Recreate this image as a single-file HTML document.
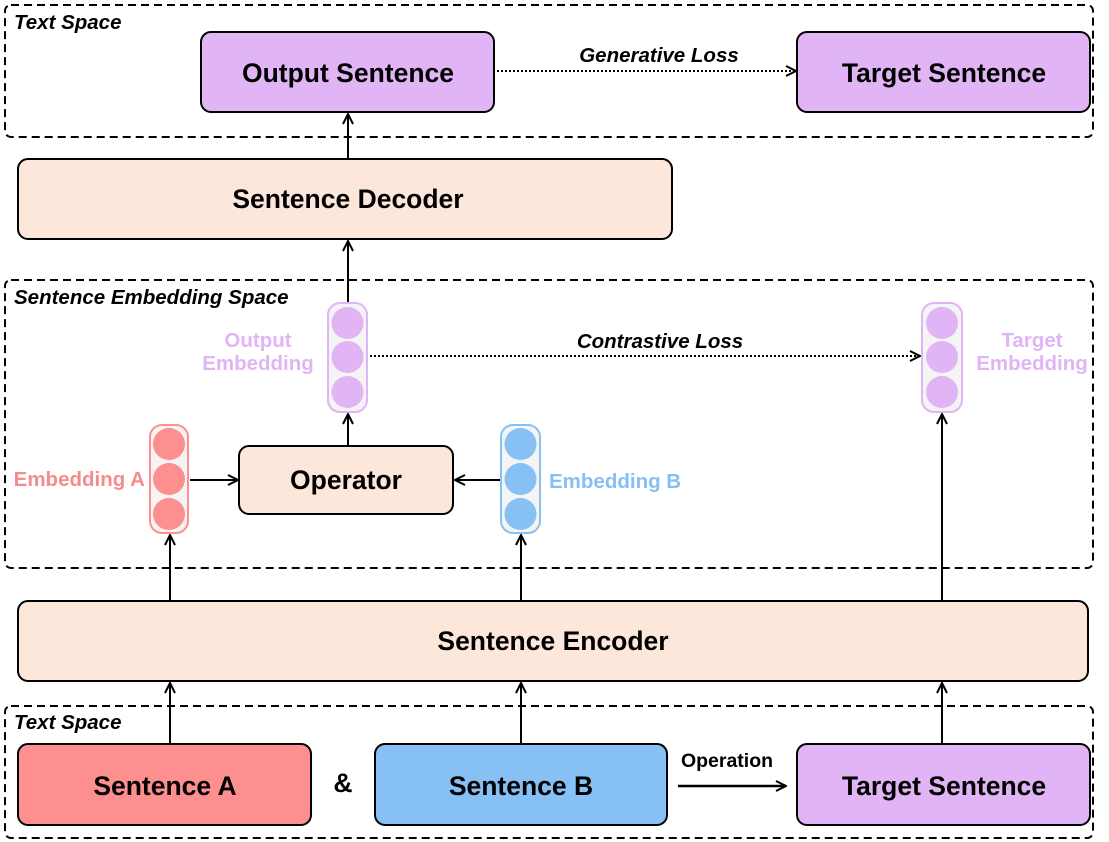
<!DOCTYPE html>
<html><head><style>body{margin:0;background:#fff}svg{display:block}text{font-family:"Liberation Sans",sans-serif;font-weight:bold}</style></head>
<body>
<svg width="1109" height="842" viewBox="0 0 1109 842" xmlns="http://www.w3.org/2000/svg">
<defs>
<marker id="a" viewBox="0 0 12 12" refX="11" refY="6" markerWidth="12" markerHeight="12" markerUnits="userSpaceOnUse" orient="auto"><path d="M1,1 L11,6 L1,11" fill="none" stroke="#000" stroke-width="2"/></marker>
</defs>
<g fill="none" stroke="#000" stroke-width="2" stroke-dasharray="8,5">
<rect x="5" y="5" width="1088" height="132" rx="6"/>
<rect x="5" y="280" width="1088" height="288" rx="6"/>
<rect x="5" y="706" width="1088" height="132" rx="6"/>
</g>
<g font-style="italic" font-size="20.5" fill="#000">
<text x="14" y="29">Text Space</text>
<text x="14" y="304">Sentence Embedding Space</text>
<text x="14" y="729">Text Space</text>
</g>
<g stroke="#000" stroke-width="2">
<rect x="201" y="32" width="293" height="80" rx="10" fill="#e0b4f5"/>
<rect x="797" y="32" width="293" height="80" rx="10" fill="#e0b4f5"/>
<rect x="18" y="159" width="654" height="80" rx="10" fill="#fde6da"/>
<rect x="239" y="446" width="214" height="68" rx="10" fill="#fde6da"/>
<rect x="18" y="601" width="1070" height="80" rx="10" fill="#fde6da"/>
<rect x="18" y="744" width="293" height="81" rx="10" fill="#fd8f8f"/>
<rect x="375" y="744" width="292" height="81" rx="10" fill="#86c0f5"/>
<rect x="797" y="744" width="293" height="81" rx="10" fill="#e0b4f5"/>
</g>
<g font-size="26.5" fill="#000" text-anchor="middle">
<text x="348" y="82">Output Sentence</text>
<text x="944" y="82">Target Sentence</text>
<text x="348" y="208">Sentence Decoder</text>
<text x="346" y="489">Operator</text>
<text x="553" y="650">Sentence Encoder</text>
<text x="165" y="795">Sentence A</text>
<text x="521" y="795">Sentence B</text>
<text x="944" y="795">Target Sentence</text>
<text x="343" y="792">&amp;</text>
</g>
<g stroke-width="2">
<rect x="328" y="303" width="39" height="109" rx="12" fill="#f4f4f4" stroke="#e0b4f5"/>
<rect x="922" y="303" width="40" height="109" rx="12" fill="#f4f4f4" stroke="#e0b4f5"/>
<rect x="150" y="425" width="38" height="108" rx="12" fill="#f4f4f4" stroke="#fd8f8f"/>
<rect x="501" y="425" width="39" height="108" rx="12" fill="#f4f4f4" stroke="#86c0f5"/>
</g>
<g fill="#e0b4f5"><circle cx="347.5" cy="323" r="16"/><circle cx="347.5" cy="357" r="16"/><circle cx="347.5" cy="392" r="16"/>
<circle cx="942" cy="323" r="16"/><circle cx="942" cy="357" r="16"/><circle cx="942" cy="392" r="16"/></g>
<g fill="#fd8f8f"><circle cx="169" cy="444" r="16"/><circle cx="169" cy="479" r="16"/><circle cx="169" cy="514" r="16"/></g>
<g fill="#86c0f5"><circle cx="520.5" cy="444" r="16"/><circle cx="520.5" cy="479" r="16"/><circle cx="520.5" cy="514" r="16"/></g>
<g font-size="20.5">
<text x="145" y="486" text-anchor="end" fill="#f58c8c">Embedding A</text>
<text x="549" y="488" fill="#86bff5">Embedding B</text>
<text x="258" y="347" text-anchor="middle" fill="#e0b4f5">Output</text>
<text x="258" y="370" text-anchor="middle" fill="#e0b4f5">Embedding</text>
<text x="1032" y="347" text-anchor="middle" fill="#e0b4f5">Target</text>
<text x="1032" y="370" text-anchor="middle" fill="#e0b4f5">Embedding</text>
<text x="659" y="62" text-anchor="middle" font-style="italic" fill="#000">Generative Loss</text>
<text x="660" y="348" text-anchor="middle" font-style="italic" fill="#000">Contrastive Loss</text>
<text x="727" y="767" text-anchor="middle" font-size="19.5" fill="#000">Operation</text>
</g>
<g stroke="#000" stroke-width="2" fill="none" marker-end="url(#a)">
<line x1="497" y1="71" x2="796" y2="71" stroke-dasharray="2,2"/>
<line x1="370" y1="356" x2="920" y2="356" stroke-dasharray="2,2"/>
<line x1="348" y1="159" x2="348" y2="114"/>
<line x1="348" y1="302" x2="348" y2="241"/>
<line x1="348" y1="446" x2="348" y2="414"/>
<line x1="190" y1="480" x2="238" y2="480"/>
<line x1="500" y1="480" x2="455" y2="480"/>
<line x1="170" y1="601" x2="170" y2="535"/>
<line x1="521" y1="601" x2="521" y2="535"/>
<line x1="942" y1="601" x2="942" y2="414"/>
<line x1="170" y1="744" x2="170" y2="683"/>
<line x1="521" y1="744" x2="521" y2="683"/>
<line x1="942" y1="744" x2="942" y2="683"/>
<line x1="678" y1="786" x2="786" y2="786" stroke-width="2.5"/>
</g>
</svg>
</body></html>
